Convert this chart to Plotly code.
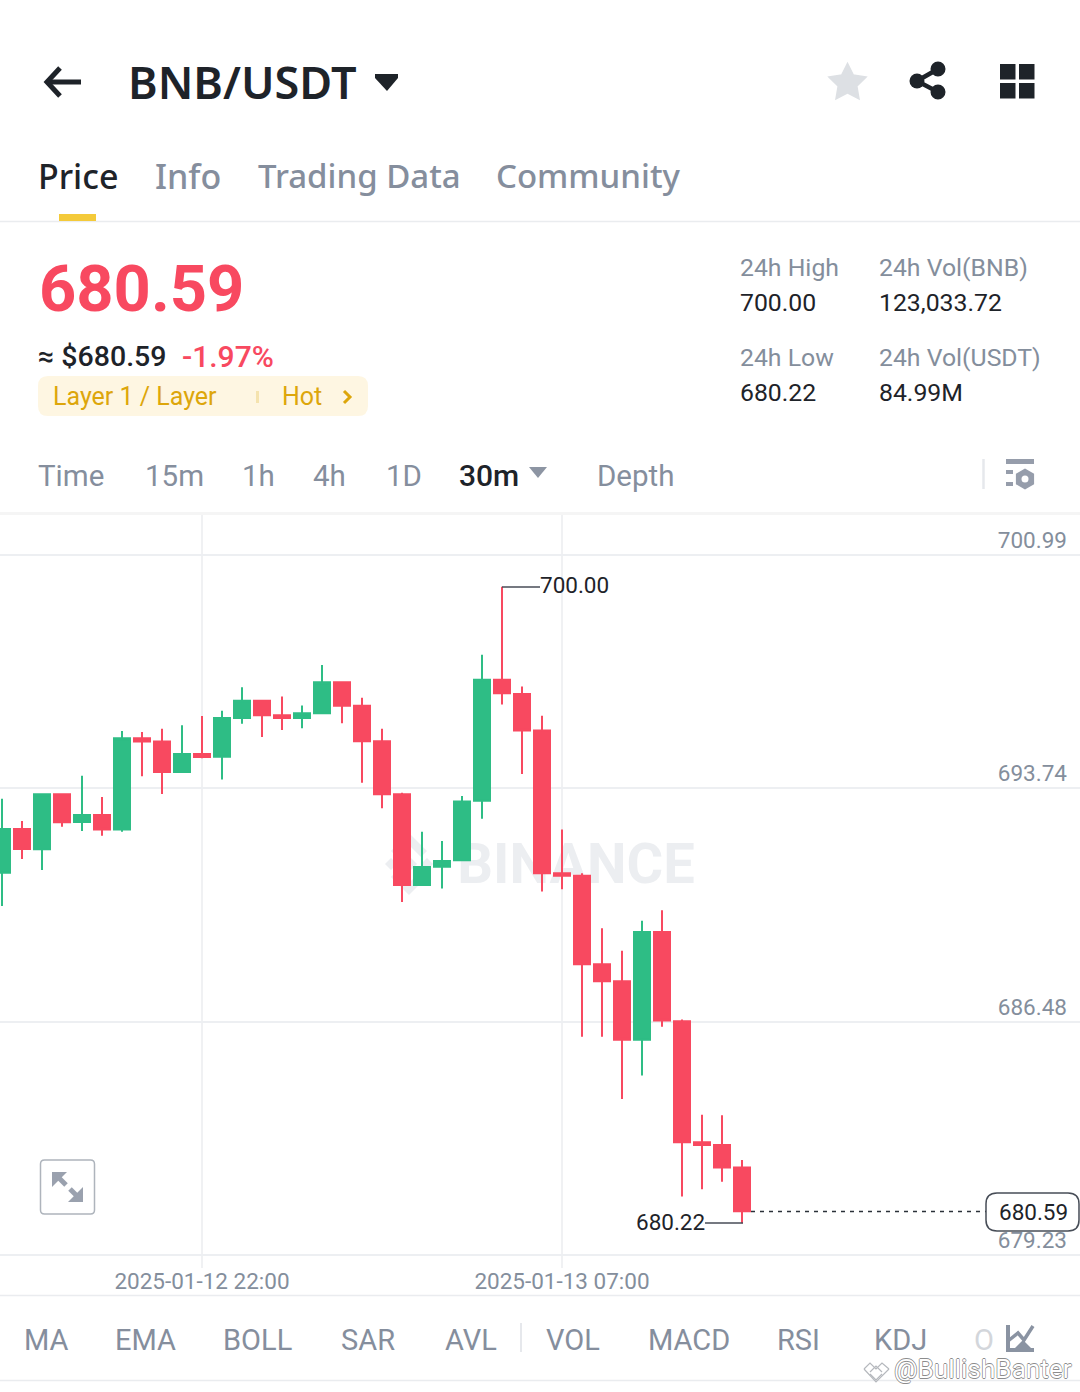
import numpy as np
import pandas as pd
import plotly.graph_objects as go

# ---------- data ----------
times = pd.date_range("2025-01-12 17:00", periods=38, freq="30min")
opens = [691.11,692.47,691.84,693.55,692.69,692.91,692.46,695.29,695.19,694.24,694.80,694.72,695.92,696.46,696.01,695.92,696.07,697.03,696.30,695.20,693.55,690.73,691.30,691.50,693.35,697.11,696.67,695.53,691.10,691.02,688.27,687.74,685.92,689.27,686.50,682.74,682.65,681.95]
highs = [693.41,692.72,693.56,693.56,694.13,693.47,695.52,695.49,695.59,695.70,695.98,696.15,696.88,696.46,696.59,696.31,697.57,697.03,696.55,695.59,693.60,692.39,692.10,693.50,697.89,700.00,696.90,695.99,692.46,691.10,689.39,688.69,689.62,689.95,686.55,683.59,683.58,682.19]
lows = [690.08,691.54,691.20,692.54,692.41,692.26,692.39,694.11,693.56,694.24,694.67,694.01,695.74,695.33,695.55,695.60,696.07,695.76,693.91,693.12,690.20,690.73,690.62,691.50,692.79,696.34,694.18,690.53,690.60,686.02,686.02,684.08,684.81,686.33,681.05,681.28,681.51,680.22]
closes = [692.47,691.85,693.55,692.68,692.91,692.46,695.29,695.19,694.24,694.80,694.71,695.92,696.46,696.01,695.92,696.07,697.03,696.30,695.20,693.55,690.73,691.29,691.48,693.33,697.11,696.69,695.53,691.10,691.02,688.27,687.74,685.92,689.27,686.52,682.74,682.65,681.95,680.59]
price_ticks = [700.99, 693.74, 686.48, 679.23]
price_labels = ["700.99", "693.74", "686.48", "679.23"]
time_ticks = ["2025-01-12 22:00", "2025-01-13 07:00"]
tabs = ["Price", "Info", "Trading Data", "Community"]
intervals = ["Time", "15m", "1h", "4h", "1D", "30m", "Depth"]
indicators = ["MA", "EMA", "BOLL", "SAR", "AVL", "VOL", "MACD", "RSI", "KDJ", "O"]
current_price = "680.59"
high_label = "700.00"
low_label = "680.22"

# ---------- style ----------
W, H = 1080, 1392
TOP, BOT = 515, 1268
DARK = "#1E2329"
GREY = "#848E9C"
RED = "#F84960"
GREEN = "#2EBD85"
LINE = "#EDEFF2"
FONT = "Roboto"
HEAD_FONT = "Noto Sans"
X_RANGE = ["2025-01-12 16:57", "2025-01-13 19:57"]
Y_RANGE = [678.83, 702.23]

def PX(x): return x / W
def PY(y): return (BOT - y) / (BOT - TOP)

annots, shapes = [], []

def text(s, x, y, size, color=GREY, weight=400, anchor="left", family=FONT, **font_extra):
    annots.append(dict(text=s, x=PX(x - 2), y=PY(y), xref="paper", yref="paper", xanchor=anchor,
                       yanchor="middle", showarrow=False, borderpad=0,
                       font=dict(family=family, size=size, color=color, weight=weight, **font_extra)))

def path(points, close=True, fill=None, color=None, width=0, layer="above", dash=None):
    d = "M " + " L ".join(f"{PX(x):.5f} {PY(y):.5f}" for x, y in points) + (" Z" if close else "")
    ln = dict(color=color or "rgba(0,0,0,0)", width=width)
    if dash: ln["dash"] = dash
    shapes.append(dict(type="path", xref="paper", yref="paper", path=d, layer=layer,
                       fillcolor=fill or "rgba(0,0,0,0)", line=ln))

def rect(x0, y0, x1, y1, fill, layer="above"):
    shapes.append(dict(type="rect", xref="paper", yref="paper", x0=PX(x0), x1=PX(x1), y0=PY(y1), y1=PY(y0),
                       fillcolor=fill, line=dict(width=0), layer=layer))

def hline(y, x0=0, x1=W, color=LINE, width=1.5, dash=None, layer="above"):
    path([(x0, y), (x1, y)], close=False, color=color, width=width, dash=dash, layer=layer)

def vline(x, y0, y1, color=LINE, width=1.5):
    path([(x, y0), (x, y1)], close=False, color=color, width=width)

def circle(cx, cy, r, fill):
    shapes.append(dict(type="circle", xref="paper", yref="paper", x0=PX(cx-r), x1=PX(cx+r),
                       y0=PY(cy+r), y1=PY(cy-r), fillcolor=fill, line=dict(width=0)))

def rrect(x0, y0, x1, y1, r, fill, color=None, width=0):
    P = lambda x, y: f"{PX(x):.5f} {PY(y):.5f}"
    d = (f"M {P(x0+r,y0)} L {P(x1-r,y0)} Q {P(x1,y0)} {P(x1,y0+r)} L {P(x1,y1-r)} Q {P(x1,y1)} {P(x1-r,y1)} "
         f"L {P(x0+r,y1)} Q {P(x0,y1)} {P(x0,y1-r)} L {P(x0,y0+r)} Q {P(x0,y0)} {P(x0+r,y0)} Z")
    shapes.append(dict(type="path", xref="paper", yref="paper", path=d, fillcolor=fill,
                       line=dict(color=color or "rgba(0,0,0,0)", width=width)))

# ---------- header ----------
path([(47, 82), (81, 82)], close=False, color=DARK, width=5)
path([(60, 68), (47, 82), (60, 96)], close=False, color=DARK, width=5)
text("BNB/USDT", 129, 81, 45, DARK, 600, family=HEAD_FONT)
path([(375, 74), (398, 74), (398, 78), (387, 91), (375, 78)], fill=DARK)
ang = np.arange(10) * np.pi / 5 - np.pi / 2
rad = np.where(np.arange(10) % 2 == 0, 19, 9.5)
path([(847.5 + r*np.cos(a), 83 + r*np.sin(a)) for r, a in zip(rad, ang)], fill="#DDE0E4", color="#DDE0E4", width=2)
path([(938, 69), (917, 81), (938, 92)], close=False, color=DARK, width=4.5)
circle(938, 69, 7.5, DARK); circle(917, 81, 7.5, DARK); circle(938, 92, 7.5, DARK)
for a, b in [(1000, 64), (1019, 64), (1000, 83), (1019, 83)]:
    rect(a, b, a + 15.5, b + 15.5, DARK)

# ---------- tabs ----------
for s, x, sz in zip(tabs, [39, 156, 259, 497], [34, 34, 33, 33]):
    text(s, x, 176, sz, DARK if s == "Price" else "#858E9D", 500, family=HEAD_FONT)
hline(221.5, color="#EAECEF")
rect(59, 214, 96, 221, "#F4CA3A")

# ---------- price block ----------
text(current_price, 40, 289, 65, RED, 700)
text("≈ $680.59", 39, 356, 28.5, DARK, 500)
text("-1.97%", 183, 356, 30, RED, 500)
rrect(38, 376, 368, 416, 10, "#FEF6E2")
text("Layer 1 / Layer", 54, 397, 25, "#DDA60B")
rect(256, 391, 259, 403, "#F5E3AE")
text("Hot", 283, 397, 25, "#DDA60B")
path([(344, 391), (350, 397), (344, 403)], close=False, color="#DDA60B", width=3)
for s, x, y, c in [("24h High", 741, 267.5, GREY), ("700.00", 741, 302.5, DARK), ("24h Low", 741, 357.5, GREY), ("680.22", 741, 392.5, DARK),
                   ("24h Vol(BNB)", 880, 267.5, GREY), ("123,033.72", 880, 302.5, DARK), ("24h Vol(USDT)", 880, 357.5, GREY), ("84.99M", 880, 392.5, DARK)]:
    text(s, x, y, 24.8, c)

# ---------- interval row ----------
for s, x in zip(intervals, [39, 146, 243, 314, 387, 460, 598]):
    if s == "30m":
        text(s, x, 475.5, 30, DARK, 500)
    else:
        text(s, x, 475.5, 29.5, "#858E9D")
path([(529, 467), (547, 467), (538, 478)], fill="#8D95A3")
vline(983.5, 459, 489, "#E6E8EC", 2.5)
rect(1006, 459, 1034, 464, "#969DAB")
rect(1006, 470, 1013, 474, "#969DAB")
rect(1006, 482, 1013, 486, "#969DAB")
hexa = np.arange(6) * np.pi / 3 - np.pi / 2
path([(1025 + 10.5*np.cos(a), 479 + 10.5*np.sin(a)) for a in hexa], fill="#969DAB")
circle(1025, 479, 3.5, "white")
hline(513.5, color="#F5F5F5", width=3)

# ---------- watermark logo (behind the candles) ----------
WM = "#ECEEF1"
def wm(points):
    path([(409 + a, 864 + b) for a, b in points], fill=WM, layer="below")
wm([(0, -8), (8, 0), (0, 8), (-8, 0)])
wm([(-18, -6), (-12, 0), (-18, 6), (-24, 0)])
wm([(18, -6), (24, 0), (18, 6), (12, 0)])
wm([(-18, -13), (0, -31), (18, -13), (12, -7), (0, -19), (-12, -7)])
wm([(-18, 13), (0, 31), (18, 13), (12, 7), (0, 19), (-12, 7)])

# ---------- chart callouts ----------
path([(502, 587), (540, 587)], close=False, color="#474D57", width=1.5)
text(high_label, 540.5, 585, 22.5, DARK)
path([(705, 1223), (743, 1223)], close=False, color="#474D57", width=1.5)
text(low_label, 636.5, 1222, 22.5, DARK)
hline(1211.5, 751, 986, color="#2B3139", width=1.3, dash="4px,5px")
rrect(986, 1193, 1079, 1231, 11, "white", "#474D57", 1.5)
text(current_price, 999.5, 1212, 22.5, DARK)

# expand button
rrect(40.5, 1160, 94.5, 1214, 4, "white", "#AEB4BC", 1.5)
ACC = "#9AA1AE"
path([(52, 1172), (67, 1172), (52, 1187)], fill=ACC)
path([(57, 1176), (66, 1185)], close=False, color=ACC, width=5)
path([(83, 1202), (68, 1202), (83, 1187)], fill=ACC)
path([(78, 1197), (70, 1189)], close=False, color=ACC, width=5)

# ---------- bottom row ----------
hline(1295.5, color="#EAECEF")
hline(1380.5, color="#EAECEF")
for s, x in zip(indicators, [25, 116, 224, 342, 446, 547, 649, 778, 875, 975]):
    text(s, x, 1339.5, 29, "#D3D6DB" if s == "O" else "#858E9D")
vline(521, 1323, 1352, "#E6E8EC", 2)
path([(1008, 1325), (1008, 1350), (1034, 1350)], close=False, color="#8A93A2", width=4)
path([(1008, 1341), (1018, 1333), (1024, 1340), (1033, 1326)], close=False, color="#8A93A2", width=3.5)
path([(1015, 1348), (1023, 1340), (1031, 1348)], fill="#8A93A2")

# screenshot watermark
for pts in ([(864, 1369), (870, 1363), (876, 1369), (882, 1363), (889, 1369)],
            [(870, 1372), (876, 1366), (882, 1372)],
            [(864, 1369), (876, 1382), (889, 1369)],
            [(870, 1374), (876, 1380), (882, 1374)]):
    path(pts, close=False, color="#B5B8BD", width=1.2)
text("@BullishBanter", 895, 1369, 26.2, "#FFFFFF", 400,
     shadow="-0.7px 0 #8C8C8C, 0.7px 0 #8C8C8C, 0 -0.7px #8C8C8C, 0 0.7px #8C8C8C")

# ---------- figure ----------
fig = go.Figure()
fig.add_trace(go.Scatter(x=["2025-01-13 07:21"], y=[691.23], mode="text", text=["BINANCE"], hoverinfo="skip",
                         textposition="middle center", showlegend=False,
                         textfont=dict(family=FONT, size=56, color=WM, weight=700), cliponaxis=False,
                         xaxis="x", yaxis="y"))
fig.add_trace(go.Candlestick(x=times, open=opens, high=highs, low=lows, close=closes, xaxis="x2", yaxis="y2",
                             whiskerwidth=0, showlegend=False,
                             increasing=dict(line=dict(color=GREEN, width=2), fillcolor=GREEN),
                             decreasing=dict(line=dict(color=RED, width=2), fillcolor=RED)))
fig.update_layout(
    width=W, height=H, margin=dict(l=0, r=0, t=TOP, b=H - BOT, autoexpand=False),
    paper_bgcolor="white", plot_bgcolor="white", boxgap=0.2, boxgroupgap=0, showlegend=False,
    font=dict(family=FONT),
    xaxis=dict(type="date", range=X_RANGE, tickvals=time_ticks, ticktext=time_ticks, showgrid=True, gridcolor="#F0F1F3",
               gridwidth=1.5, zeroline=False, showline=False, ticks="", tickfont=dict(family=FONT, size=22.5, color=GREY),
               ticklabelstandoff=-3),
    yaxis=dict(range=Y_RANGE, side="right", tickvals=price_ticks, ticktext=price_labels, showgrid=True, gridcolor=LINE,
               gridwidth=1.5, zeroline=False, showline=False, ticks="", ticklabelposition="inside",
               tickfont=dict(family=FONT, size=22.5, color=GREY), ticklabelstandoff=10, ticklabelshift=-15),
    xaxis2=dict(type="date", range=X_RANGE, overlaying="x", visible=False, rangeslider=dict(visible=False)),
    yaxis2=dict(range=Y_RANGE, overlaying="y", side="right", visible=False),
    annotations=annots, shapes=shapes,
)
fig.write_html("out.html", config=dict(displayModeBar=False),
               post_script="document.body.style.margin='0';document.documentElement.style.overflow='hidden';")
